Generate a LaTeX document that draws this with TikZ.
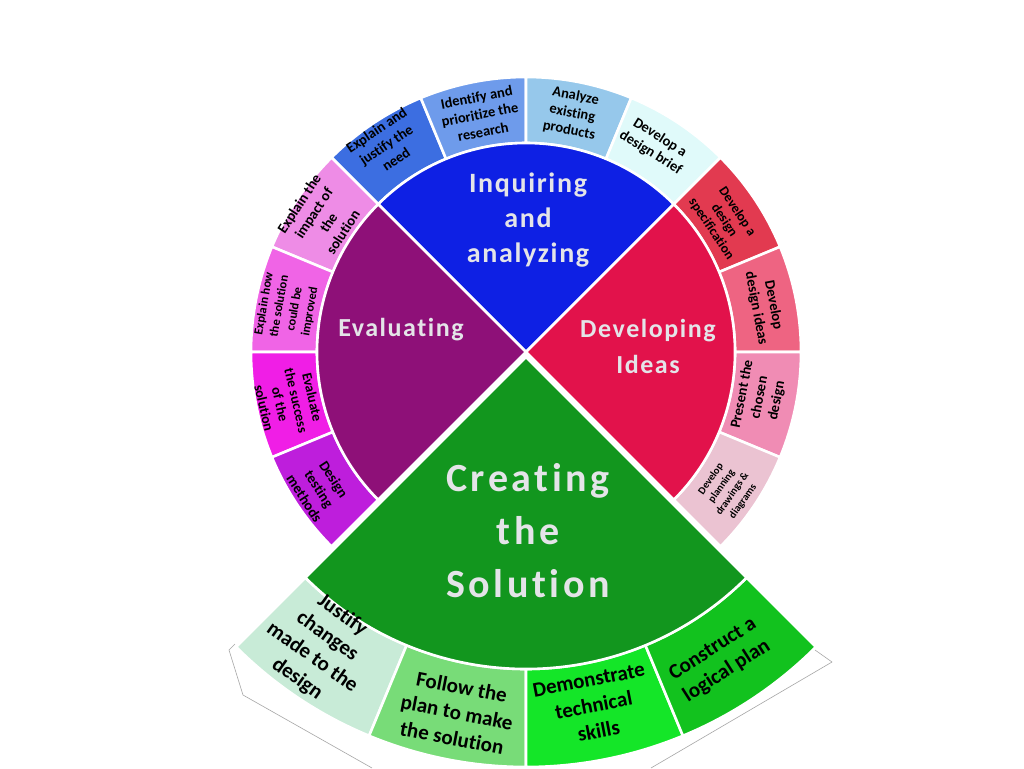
\documentclass[tikz,border=0pt]{standalone}
\usepackage{fontspec}
\setmainfont{Carlito}[Ligatures=NoCommon]
\newfontfamily\lblfont{Carlito}[LetterSpace=6,Ligatures=NoCommon]
\newfontfamily\bigfont{Carlito}[LetterSpace=9,Ligatures=NoCommon]
\definecolor{cblue}{RGB}{14,32,228}
\definecolor{cpurple}{RGB}{142,16,120}
\definecolor{cred}{RGB}{226,18,75}
\definecolor{cgreen}{RGB}{18,150,30}
\definecolor{lbl}{RGB}{228,228,232}
\definecolor{rA}{RGB}{60,110,225}
\definecolor{rB}{RGB}{110,155,235}
\definecolor{rC}{RGB}{150,200,235}
\definecolor{rD}{RGB}{224,250,250}
\definecolor{rE}{RGB}{226,58,80}
\definecolor{rF}{RGB}{238,100,130}
\definecolor{rG}{RGB}{240,140,180}
\definecolor{rH}{RGB}{235,195,210}
\definecolor{rI}{RGB}{238,140,230}
\definecolor{rJ}{RGB}{240,100,230}
\definecolor{rK}{RGB}{240,30,230}
\definecolor{rL}{RGB}{190,30,220}
\definecolor{rM}{RGB}{200,235,215}
\definecolor{rN}{RGB}{120,220,120}
\definecolor{rO}{RGB}{20,230,40}
\definecolor{rP}{RGB}{18,194,30}
\newcommand\annseg[6]{%
  \filldraw[fill=#6, sepline] ([shift={(#1)}]#2:#4pt) arc[start angle=#2, end angle=#3, radius=#4pt]
    -- ([shift={(#1)}]#3:#5pt) arc[start angle=#3, end angle=#2, radius=#5pt] -- cycle;}
\newcommand\pieseg[5]{%
  \filldraw[fill=#5, sepline] (#1) -- ([shift={(#1)}]#2:#4pt) arc[start angle=#2, end angle=#3, radius=#4pt] -- cycle;}
\begin{document}
\begin{tikzpicture}[x=1pt,y=1pt,
  sepline/.style={draw=white, line width=2.6pt, line join=round},
  ringtxt/.style={font=\bfseries\fontsize{14.5}{17.5}\selectfont, align=center, text=black, inner sep=0pt},
  smalltxt/.style={ringtxt, font=\bfseries\fontsize{12.5}{15.5}\selectfont},
  tinytxt/.style={ringtxt, font=\bfseries\fontsize{10.5}{13}\selectfont},
  greentxt/.style={ringtxt, font=\bfseries\fontsize{21}{26}\selectfont},
  mainlbl/.style={font=\lblfont\bfseries\fontsize{28}{35}\selectfont, align=center, text=lbl, inner sep=0pt},
  biglbl/.style={font=\bigfont\bfseries\fontsize{40}{53}\selectfont, align=center, text=lbl, inner sep=0pt},
  outline/.style={draw=black!35, line width=0.6pt, line join=round}]
\fill[white] (0,0) rectangle (1024,-768);
\useasboundingbox (0,0) rectangle (1024,-768);
\coordinate (C) at (526,-352);
\coordinate (G) at (526,-357);
% outline of the green base
\draw[outline] (235,-644) -- (229,-650) -- (243,-695) -- (372,-768);
\draw[outline] (815,-650) -- (832,-662) -- (651,-768);
% outer ring, top quadrant
\annseg{C}{112.5}{135}{209}{275}{rA}
\annseg{C}{90}{112.5}{209}{275}{rB}
\annseg{C}{67.5}{90}{209}{275}{rC}
\annseg{C}{45}{67.5}{209}{275}{rD}
% right quadrant
\annseg{C}{22.5}{45}{209}{275}{rE}
\annseg{C}{0}{22.5}{209}{275}{rF}
\annseg{C}{-22.5}{0}{209}{275}{rG}
\annseg{C}{-45}{-22.5}{209}{275}{rH}
% left quadrant
\annseg{C}{135}{157.5}{209}{275}{rI}
\annseg{C}{157.5}{180}{209}{275}{rJ}
\annseg{C}{180}{202.5}{209}{275}{rK}
\annseg{C}{202.5}{225}{209}{275}{rL}
% inner sectors
\pieseg{C}{45}{135}{209}{cblue}
\pieseg{C}{135}{225}{209}{cpurple}
\pieseg{C}{-45}{45}{209}{cred}
% green ring and sector
\annseg{G}{225}{247.5}{312}{410}{rM}
\annseg{G}{247.5}{270}{312}{410}{rN}
\annseg{G}{270}{292.5}{312}{410}{rO}
\annseg{G}{292.5}{315}{312}{410}{rP}
\pieseg{G}{225}{315}{312}{cgreen}
% main labels
\node[mainlbl] (inq) at (528,-220) {Inquiring\\and\\analyzing};
\node[mainlbl, font=\lblfont\bfseries\fontsize{26}{35}\selectfont] (eval) at (401,-330) {Evaluating};
\node[mainlbl, font=\lblfont\bfseries\fontsize{26}{36}\selectfont] (dev) at (648,-346) {Developing\\Ideas};
\node[biglbl] (cre) at (528,-531) {Creating\\the\\Solution};
% ring texts
\node[ringtxt, rotate=34] (t1) at ([shift={(C)}]124:250pt) {Explain and\\justify the\\need};
\node[ringtxt, rotate=11] (t2) at ([shift={(C)}]101:242pt) {Identify and\\prioritize the\\research};
\node[ringtxt, rotate=-11] (t3) at ([shift={(C)}]79:243pt) {Analyze\\existing\\products};
\node[ringtxt, rotate=-32] (t4) at ([shift={(C)}]58:244pt) {Develop a\\design brief};
\node[ringtxt, font=\bfseries\fontsize{13.5}{15.5}\selectfont, rotate=-56.4] (t5) at ([shift={(C)}]33.6:238pt) {Develop a\\design\\specification};
\node[ringtxt, rotate=-79.3] (t6) at ([shift={(C)}]10.7:243pt) {Develop\\design ideas};
\node[ringtxt, rotate=79] (t7) at ([shift={(C)}]-11:238pt) {Present the\\chosen\\design};
\node[tinytxt, rotate=55] (t8) at ([shift={(C)}]-34.5:244pt) {Develop\\planning\\drawings \&\\diagrams};
\node[ringtxt, rotate=56.8] (t9) at ([shift={(C)}]146.8:245pt) {Explain the\\impact of\\the\\solution};
\node[smalltxt, rotate=80] (t10) at ([shift={(C)}]169.5:243pt) {Explain how\\the solution\\could be\\improved};
\node[ringtxt, font=\bfseries\fontsize{14}{16.5}\selectfont, rotate=-77] (t11) at ([shift={(C)}]192:243pt) {Evaluate\\the success\\of the\\solution};
\node[ringtxt, rotate=-57] (t12) at ([shift={(C)}]213.5:248pt) {Design\\testing\\methods};
\node[greentxt, rotate=-35.4] (t13) at ([shift={(G)}]234.6:356pt) {Justify\\changes\\made to the\\design};
\node[greentxt, rotate=-11] (t14) at ([shift={(G)}]259:362pt) {Follow the\\plan to make\\the solution};
\node[greentxt, rotate=11] (t15) at ([shift={(G)}]281:355pt) {Demonstrate\\technical\\skills};
\node[greentxt, rotate=32.6] (t16) at ([shift={(G)}]302.6:360pt) {Construct a\\logical plan};
\end{tikzpicture}
\end{document}
